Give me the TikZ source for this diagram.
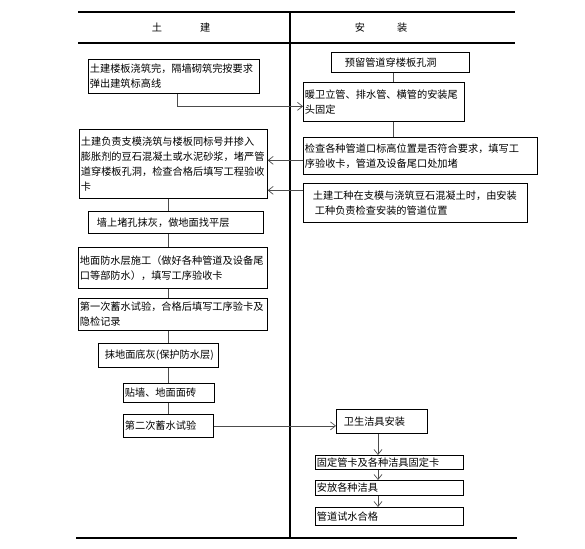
\documentclass[tikz,border=0pt]{standalone}
\usepackage{fontspec}
\newfontfamily\cjkfont{Noto Sans CJK SC}
\usepackage{tikz}
\usetikzlibrary{arrows.meta, positioning}
\tikzset{
    box/.style  ={draw=black, line width=0.7pt, fill=white, anchor=north west,
                  font=\cjkfont\fontsize{10.2}{15}\selectfont, align=left,
                  inner xsep=1.5pt, inner ysep=0pt},
    head/.style ={font=\cjkfont\fontsize{10.2}{12}\selectfont, inner sep=0pt},
    rule/.style ={line width=1.6pt, draw=black},
    ln/.style   ={line width=0.7pt, draw=black!70},
    ar/.style   ={ln, -{Straight Barb[length=5pt, width=8pt]}}
}

\begin{document}
\begin{tikzpicture}[x=1pt, y=-1pt]
  \useasboundingbox (0,0) rectangle (585,548);
  % table frame
  \draw[rule] (78,12) -- (515,12);
  \draw[rule] (78,43) -- (515,43);
  \draw[rule] (76,538) -- (517,538);
  \draw[rule] (290,12) -- (290,538);
  \node[head] (hcivil)   at (181,28) {土\hspace{38pt}建};
  \node[head] (hinstall) at (381,28) {安\hspace{32pt}装};

  % civil works
  \node[box, text width=168pt, minimum height=34pt] (c1) at (88,59)
    {土建楼板浇筑完，隔墙砌筑完按要求\\弹出建筑标高线};
  \node[box, text width=185pt, minimum height=69pt] (c2) at (79,129)
    {土建负责支模浇筑与楼板同标号并掺入\\膨胀剂的豆石混凝土或水泥砂浆，堵严管\\道穿楼板孔洞，检查合格后填写工程验收\\卡};
  \node[box, text width=172pt, minimum height=22pt] (c3) at (88,211)
    {\hspace*{7pt}墙上堵孔抹灰，做地面找平层};
  \node[box, text width=186pt, minimum height=41pt] (c4) at (78,247)
    {地面防水层施工（做好各种管道及设备尾\\口等部防水），填写工序验收卡};
  \node[box, text width=186pt, minimum height=32pt] (c5) at (78,298)
    {第一次蓄水试验，合格后填写工序验卡及\\隐检记录};
  \node[box, text width=117pt, minimum height=24pt] (c6) at (98,343)
    {\hspace*{5pt}抹地面底灰(保护防水层)};
  \node[box, text width=88pt, minimum height=19pt] (c7) at (123,383)
    {贴墙、地面面砖};
  \node[box, text width=87pt, minimum height=23pt] (c8) at (123,414)
    {第二次蓄水试验};

  % installation
  \node[box, text width=135pt, minimum height=20pt] (i1) at (331,52)
    {\hspace*{12pt}预留管道穿楼板孔洞};
  \node[box, text width=158pt, minimum height=39pt] (i2) at (303,82)
    {暖卫立管、排水管、横管的安装尾\\头固定};
  \node[box, text width=231pt, minimum height=37pt] (i3) at (303,137)
    {检查各种管道口标高位置是否符合要求，填写工\\序验收卡，管道及设备尾口处加堵};
  \node[box, text width=221pt, minimum height=39pt] (i4) at (303,183)
    {\hspace*{8pt}土建工种在支模与浇筑豆石混凝土时，由安装\\\hspace*{10pt}工种负责检查安装的管道位置};
  \node[box, text width=88pt, minimum height=24pt] (i5) at (336,409)
    {\hspace*{6pt}卫生洁具安装};
  \node[box, text width=145pt, minimum height=14pt] (i6) at (315,455)
    {固定管卡及各种洁具固定卡};
  \node[box, text width=145pt, minimum height=15pt] (i7) at (315,480)
    {安放各种洁具};
  \node[box, text width=145pt, minimum height=18pt] (i8) at (315,507)
    {管道试水合格};

  % connectors
  \coordinate (lx) at (168.5,0);
  \coordinate (rx) at (393,0);
  \coordinate (ax) at (378,0);
  \draw[ar] ([xshift=3.5pt]c1.south) |- ([yshift=-4.5pt]i2.west);
  \draw[ln] (i1.south -| rx) -- (i2.north -| rx);
  \draw[ln] (i2.south -| rx) -- (i3.north -| rx);
  \draw[ar] ([yshift=-4.5pt]i3.west) -- ([yshift=-4.5pt]i3.west -| c2.east);
  \draw[ar] ([yshift=12.5pt]i4.west) -- ([yshift=12.5pt]i4.west -| c2.east);
  \foreach \a/\b in {c2/c3, c3/c4, c4/c5, c5/c6, c6/c7, c7/c8}
    \draw[ln] (\a.south -| lx) -- (\b.north -| lx);
  \draw[ar] (c8.east) -- (c8.east -| i5.west);
  \foreach \a/\b in {i5/i6, i6/i7, i7/i8}
    \draw[ar] (\a.south -| ax) -- (\b.north -| ax);
\end{tikzpicture}
\end{document}
